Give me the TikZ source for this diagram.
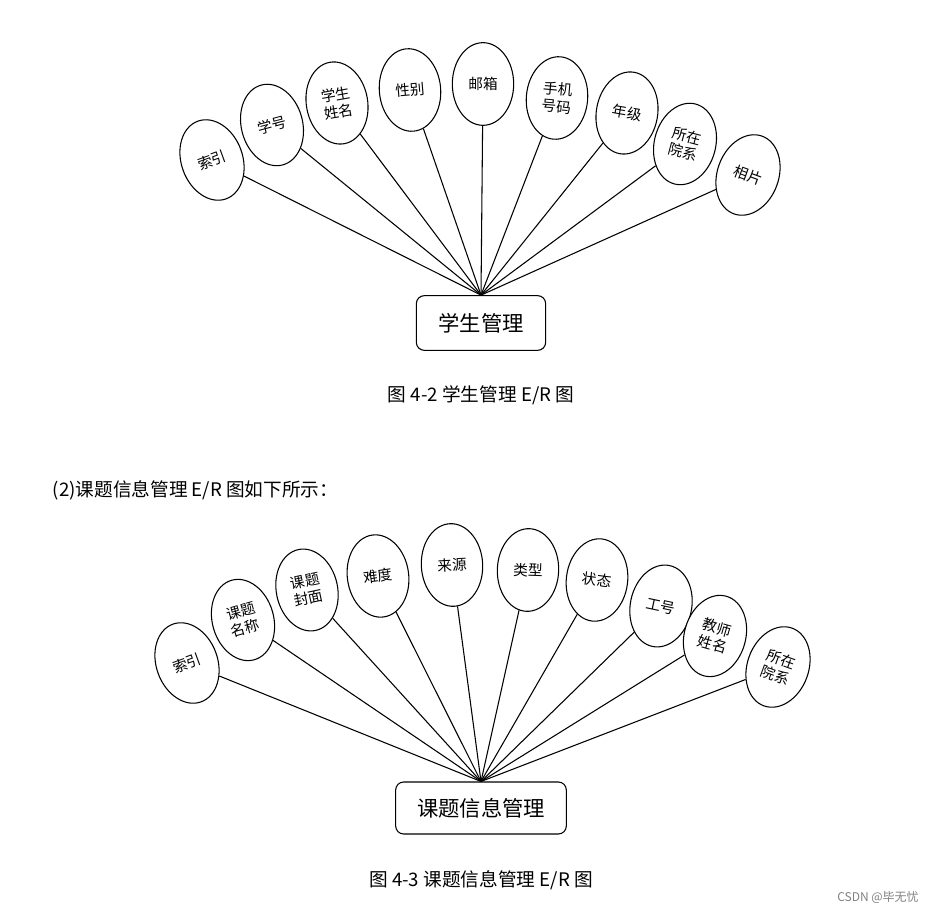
\documentclass[tikz,border=0pt]{standalone}
\usepackage{fontspec}
\setmainfont{Liberation Serif}
\newfontfamily\cjk{Noto Sans CJK SC}
\usetikzlibrary{shapes.geometric}
\begin{document}
\begin{tikzpicture}[x=0.75pt,y=-0.75pt,
  attr/.style={draw,thick,ellipse,minimum width=46pt,minimum height=62pt,inner sep=0pt,font=\cjk\fontsize{11}{13}\selectfont,align=center,fill=white},
  hub/.style={draw,thick,rounded corners=6pt,font=\cjk\fontsize{16}{18}\selectfont,inner sep=0pt},
  link/.style={thick}]
\useasboundingbox (0,0) rectangle (947,912);
% top
\node[hub,minimum width=97pt,minimum height=41pt] (h1) at (481,323) {学生管理};
\coordinate (a1) at (h1.north);
\foreach \n/\x/\y/\r/\t in {t1/212/160/20/索引, t2/272/125/15/学号, t3/337/103/10/学生\\姓名, t4/410/90/5/性别, t5/483/84/0/邮箱, t6/557/98/-5/手机\\号码, t7/627/113/-10/年级, t8/685/144/-15/所在\\院系, t9/748/175/-20/相片}{
  \node[attr,rotate=\r] (\n) at (\x,\y) {\t};
  \draw[link] (a1) -- (\n);
}
\node[font=\cjk\fontsize{14}{16}\selectfont] (c1) at (481,395) {图 4-2 学生管理 E/R 图};
\node[font=\cjk\fontsize{14}{16}\selectfont,anchor=west] (p) at (48,490) {(2)课题信息管理 E/R 图如下所示：};
% bottom
\node[hub,minimum width=128pt,minimum height=39pt] (h2) at (481,808) {课题信息管理};
\coordinate (a2) at (h2.north);
\foreach \n/\x/\y/\r/\t in {b1/187/663/20/索引, b2/243/620/16/课题\\名称, b3/307/590/12/课题\\封面, b4/378/576/8/难度, b5/452/565/3/来源, b6/528/570/-2/类型, b7/597/580/-7/状态, b8/661/606/-12/工号, b9/715/636/-16/教师\\姓名, b10/778/667/-20/所在\\院系}{
  \node[attr,rotate=\r] (\n) at (\x,\y) {\t};
  \draw[link] (a2) -- (\n);
}
\node[font=\cjk\fontsize{14}{16}\selectfont] (c2) at (481,880) {图 4-3 课题信息管理 E/R 图};
\node[font=\cjk\fontsize{9}{11}\selectfont,text=gray] (w) at (878,897) {CSDN @毕无忧};
\end{tikzpicture}
\end{document}
